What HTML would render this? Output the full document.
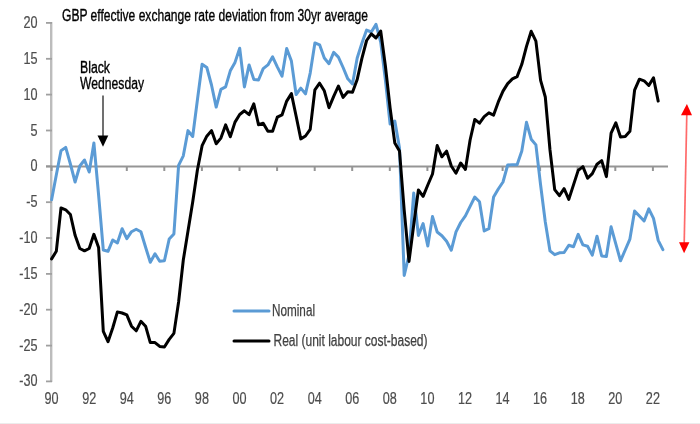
<!DOCTYPE html>
<html><head><meta charset="utf-8"><style>
html,body{margin:0;padding:0;background:#fff;width:700px;height:424px;overflow:hidden}
svg{display:block;will-change:transform}
text{font-family:"Liberation Sans",sans-serif;font-size:16px}
.bd{stroke:#000;stroke-width:0.35}
.lg{stroke:#404040;stroke-width:0.25}
.ax{stroke:#4d4d4d;stroke-width:0.2}
.ax{fill:#4d4d4d}
</style></head><body>
<svg width="700" height="424" viewBox="0 0 700 424">
<rect x="0" y="423" width="700" height="1" fill="#ececec"/>
<line x1="51.2" y1="22" x2="51.2" y2="382" stroke="#bcbcbc" stroke-width="2.4"/>
<g stroke="#a0a0a0" stroke-width="1.8" fill="none">
<line x1="46" y1="22.9" x2="52" y2="22.9"/><line x1="46" y1="58.8" x2="52" y2="58.8"/><line x1="46" y1="94.6" x2="52" y2="94.6"/><line x1="46" y1="130.5" x2="52" y2="130.5"/><line x1="46" y1="166.3" x2="52" y2="166.3"/><line x1="46" y1="202.2" x2="52" y2="202.2"/><line x1="46" y1="238.0" x2="52" y2="238.0"/><line x1="46" y1="273.9" x2="52" y2="273.9"/><line x1="46" y1="309.7" x2="52" y2="309.7"/><line x1="46" y1="345.6" x2="52" y2="345.6"/><line x1="46" y1="381.4" x2="52" y2="381.4"/>
</g>
<g stroke="#959595" stroke-width="2">
<line x1="46" y1="166.6" x2="668" y2="166.6"/>
<line x1="51.6" y1="166.3" x2="51.6" y2="171"/><line x1="89.2" y1="166.3" x2="89.2" y2="171"/><line x1="126.8" y1="166.3" x2="126.8" y2="171"/><line x1="164.3" y1="166.3" x2="164.3" y2="171"/><line x1="201.9" y1="166.3" x2="201.9" y2="171"/><line x1="239.5" y1="166.3" x2="239.5" y2="171"/><line x1="277.1" y1="166.3" x2="277.1" y2="171"/><line x1="314.7" y1="166.3" x2="314.7" y2="171"/><line x1="352.2" y1="166.3" x2="352.2" y2="171"/><line x1="389.8" y1="166.3" x2="389.8" y2="171"/><line x1="427.4" y1="166.3" x2="427.4" y2="171"/><line x1="465.0" y1="166.3" x2="465.0" y2="171"/><line x1="502.6" y1="166.3" x2="502.6" y2="171"/><line x1="540.1" y1="166.3" x2="540.1" y2="171"/><line x1="577.7" y1="166.3" x2="577.7" y2="171"/><line x1="615.3" y1="166.3" x2="615.3" y2="171"/><line x1="652.9" y1="166.3" x2="652.9" y2="171"/>
</g>
<text transform="translate(37.6,27.9) scale(0.79,1)" text-anchor="end" class="ax">20</text>
<text transform="translate(37.6,63.8) scale(0.79,1)" text-anchor="end" class="ax">15</text>
<text transform="translate(37.6,99.6) scale(0.79,1)" text-anchor="end" class="ax">10</text>
<text transform="translate(37.6,135.5) scale(0.79,1)" text-anchor="end" class="ax">5</text>
<text transform="translate(37.6,171.3) scale(0.79,1)" text-anchor="end" class="ax">0</text>
<text transform="translate(37.6,207.2) scale(0.79,1)" text-anchor="end" class="ax">-5</text>
<text transform="translate(37.6,243.0) scale(0.79,1)" text-anchor="end" class="ax">-10</text>
<text transform="translate(37.6,278.9) scale(0.79,1)" text-anchor="end" class="ax">-15</text>
<text transform="translate(37.6,314.7) scale(0.79,1)" text-anchor="end" class="ax">-20</text>
<text transform="translate(37.6,350.6) scale(0.79,1)" text-anchor="end" class="ax">-25</text>
<text transform="translate(37.6,386.4) scale(0.79,1)" text-anchor="end" class="ax">-30</text>

<text transform="translate(51.6,404) scale(0.79,1)" text-anchor="middle" class="ax">90</text>
<text transform="translate(89.2,404) scale(0.79,1)" text-anchor="middle" class="ax">92</text>
<text transform="translate(126.8,404) scale(0.79,1)" text-anchor="middle" class="ax">94</text>
<text transform="translate(164.3,404) scale(0.79,1)" text-anchor="middle" class="ax">96</text>
<text transform="translate(201.9,404) scale(0.79,1)" text-anchor="middle" class="ax">98</text>
<text transform="translate(239.5,404) scale(0.79,1)" text-anchor="middle" class="ax">00</text>
<text transform="translate(277.1,404) scale(0.79,1)" text-anchor="middle" class="ax">02</text>
<text transform="translate(314.7,404) scale(0.79,1)" text-anchor="middle" class="ax">04</text>
<text transform="translate(352.2,404) scale(0.79,1)" text-anchor="middle" class="ax">06</text>
<text transform="translate(389.8,404) scale(0.79,1)" text-anchor="middle" class="ax">08</text>
<text transform="translate(427.4,404) scale(0.79,1)" text-anchor="middle" class="ax">10</text>
<text transform="translate(465.0,404) scale(0.79,1)" text-anchor="middle" class="ax">12</text>
<text transform="translate(502.6,404) scale(0.79,1)" text-anchor="middle" class="ax">14</text>
<text transform="translate(540.1,404) scale(0.79,1)" text-anchor="middle" class="ax">16</text>
<text transform="translate(577.7,404) scale(0.79,1)" text-anchor="middle" class="ax">18</text>
<text transform="translate(615.3,404) scale(0.79,1)" text-anchor="middle" class="ax">20</text>
<text transform="translate(652.9,404) scale(0.79,1)" text-anchor="middle" class="ax">22</text>

<polyline points="51.6,199.8 56.3,175.0 61.0,150.8 65.7,147.4 70.4,164.0 75.1,182.0 79.8,166.0 84.5,160.0 89.2,172.0 93.9,143.0 98.6,195.0 103.3,250.0 108.0,251.3 112.7,240.0 117.4,243.0 122.1,228.7 126.8,238.7 131.5,231.7 136.2,229.2 140.9,231.7 145.6,247.2 150.3,262.3 155.0,253.8 159.7,261.3 164.4,260.8 169.2,239.0 173.9,234.0 178.6,165.3 183.3,155.8 188.0,130.6 192.7,136.5 197.4,100.0 202.1,64.2 206.8,67.5 211.5,85.0 216.2,107.1 220.9,89.3 225.6,86.9 230.3,70.8 235.0,62.4 239.7,48.2 244.4,86.9 249.1,64.9 253.8,79.4 258.5,80.0 263.2,68.7 267.9,64.9 272.6,56.8 277.3,66.8 282.0,76.2 286.7,48.5 291.4,61.1 296.1,94.5 300.8,88.1 305.5,93.9 310.2,73.1 314.9,42.9 319.6,44.8 324.3,58.0 329.0,63.7 333.7,52.4 338.4,57.1 343.1,67.5 347.8,78.8 352.5,83.9 357.2,58.0 361.9,43.3 366.6,30.1 371.3,32.0 376.0,24.4 380.7,42.0 385.4,80.0 390.1,124.0 394.8,121.0 399.5,148.0 404.2,275.5 409.0,255.0 413.7,193.0 418.4,235.4 423.1,223.6 427.8,246.0 432.5,216.6 437.2,232.0 441.9,235.7 446.6,241.3 451.3,250.2 456.0,231.9 460.7,222.5 465.4,215.8 470.1,206.4 474.8,197.0 479.5,201.7 484.2,230.9 488.9,228.7 493.6,197.0 498.3,189.0 503.0,182.0 507.7,165.0 512.4,164.7 517.1,164.7 521.8,151.0 526.5,122.3 531.2,139.2 535.9,144.9 540.6,185.0 545.3,222.0 550.0,250.9 554.7,254.7 559.4,252.8 564.1,252.5 568.8,245.3 573.5,246.8 578.2,234.3 582.9,244.9 587.6,246.2 592.3,255.1 597.0,236.2 601.7,256.0 606.4,256.4 611.1,226.8 615.8,243.8 620.5,260.8 625.2,250.0 629.9,239.1 634.6,211.1 639.4,216.0 644.1,221.0 648.8,208.9 653.5,218.4 658.2,240.4 662.9,249.6" fill="none" stroke="#5b9bd5" stroke-width="3" stroke-linejoin="round" stroke-linecap="round"/>
<polyline points="51.6,258.9 56.3,251.3 61.0,207.9 65.7,209.8 70.4,214.5 75.1,235.3 79.8,248.5 84.5,250.8 89.2,248.5 93.9,234.3 98.6,247.5 103.3,331.3 108.0,341.7 112.7,328.0 117.4,311.9 122.1,313.0 126.8,314.9 131.5,326.2 136.2,330.8 140.9,321.3 145.6,326.2 150.3,342.6 155.0,342.6 159.7,346.4 164.4,347.0 169.2,339.4 173.9,333.4 178.6,302.0 183.3,260.0 188.0,231.0 192.7,202.0 197.4,170.0 202.1,145.7 206.8,136.2 211.5,130.6 216.2,143.8 220.9,138.1 225.6,124.9 230.3,136.8 235.0,122.1 239.7,114.5 244.4,110.8 249.1,114.7 253.8,103.9 258.5,124.7 263.2,123.2 267.9,131.3 272.6,131.3 277.3,117.2 282.0,114.9 286.7,101.1 291.4,93.6 296.1,116.0 300.8,138.9 305.5,136.0 310.2,129.4 314.9,89.8 319.6,83.2 324.3,90.8 329.0,107.7 333.7,96.4 338.4,86.0 343.1,97.4 347.8,91.7 352.5,92.3 357.2,79.5 361.9,58.4 366.6,40.5 371.3,33.9 376.0,38.0 380.7,31.0 385.4,66.0 390.1,108.0 394.8,143.0 399.5,151.0 404.2,210.0 409.0,261.4 413.7,225.0 418.4,190.0 423.1,196.4 427.8,185.0 432.5,174.0 437.2,145.5 441.9,156.8 446.6,151.1 451.3,166.0 456.0,173.2 460.7,163.0 465.4,169.4 470.1,140.0 474.8,119.4 479.5,123.2 484.2,116.6 488.9,112.8 493.6,115.1 498.3,101.9 503.0,91.1 507.7,83.6 512.4,78.9 517.1,76.6 521.8,64.3 526.5,46.4 531.2,31.3 535.9,41.1 540.6,80.4 545.3,97.0 550.0,150.0 554.7,189.6 559.4,195.7 564.1,188.7 568.8,199.4 573.5,184.9 578.2,170.4 582.9,166.6 587.6,178.3 592.3,173.6 597.0,164.2 601.7,160.6 606.4,176.6 611.1,133.2 615.8,122.8 620.5,137.0 625.2,136.6 629.9,131.3 634.6,90.2 639.4,79.2 644.1,80.8 648.8,85.5 653.5,77.9 658.2,101.1" fill="none" stroke="#000" stroke-width="3" stroke-linejoin="round" stroke-linecap="round"/>
<text x="62" y="20.6" textLength="306" lengthAdjust="spacingAndGlyphs" fill="#000" class="bd">GBP effective exchange rate deviation from 30yr average</text>
<text x="80" y="73.2" textLength="30" lengthAdjust="spacingAndGlyphs" fill="#000" class="bd">Black</text>
<text x="80" y="89.2" textLength="64" lengthAdjust="spacingAndGlyphs" fill="#000" class="bd">Wednesday</text>
<line x1="103" y1="95.5" x2="103" y2="136" stroke="#404040" stroke-width="1.5"/>
<polygon points="97.5,135.5 108.3,135.5 103,146.8" fill="#000"/>
<line x1="234" y1="311" x2="269" y2="311" stroke="#5b9bd5" stroke-width="3" stroke-linecap="round"/>
<line x1="234" y1="341" x2="269" y2="341" stroke="#000" stroke-width="3" stroke-linecap="round"/>
<text x="272" y="315.6" textLength="43" lengthAdjust="spacingAndGlyphs" fill="#404040" class="lg">Nominal</text>
<text x="273.5" y="345.8" textLength="154" lengthAdjust="spacingAndGlyphs" fill="#404040" class="lg">Real (unit labour cost-based)</text>
<line x1="686.8" y1="114" x2="684.2" y2="243" stroke="#ff6a6a" stroke-width="1.7"/>
<polygon points="686.9,104 681,115.3 692,115.3" fill="#f00"/>
<polygon points="679,242.2 689.4,242.2 684.1,253.2" fill="#f00"/>
</svg>
</body></html>
